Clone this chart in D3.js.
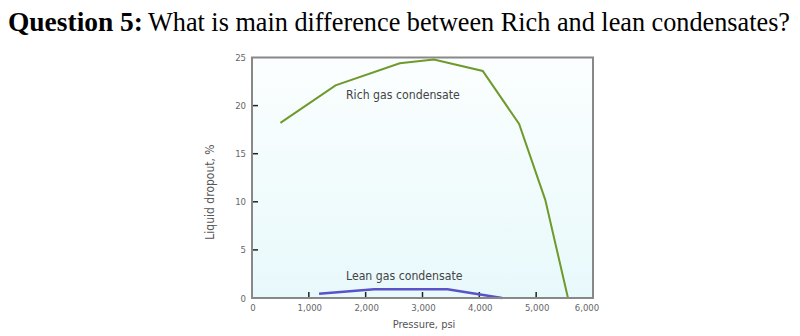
<!DOCTYPE html>
<html>
<head>
<meta charset="utf-8">
<script src="https://cdn.jsdelivr.net/npm/d3@7"></script>
<style>
 body { margin:0; background:#fff; }
 svg text { font-family: "DejaVu Sans Condensed", "Liberation Sans Narrow", sans-serif; }
</style>
</head>
<body>
<svg id="chart" width="800" height="336"></svg>
<script>
// chart data
var richPressure = [500, 1470, 2600, 3200, 4060, 4700, 5160, 5560];
var richDropout  = [18.2, 22.1, 24.4, 24.8, 23.6, 18.1, 10.2, 0];
var leanPressure = [1180, 2150, 3440, 4400];
var leanDropout  = [0.45, 0.9, 0.9, 0];
var xTicks = [0, 1000, 2000, 3000, 4000, 5000, 6000];
var yTicks = [0, 5, 10, 15, 20, 25];

function drawChart()
    {
    var svg = d3.select("#chart");

    // title, two pieces so each can be fitted to its width
    svg.append("text")
        .attr("x", 8).attr("y", 31)
        .style("font-family", "'Liberation Serif', 'Times New Roman', serif")
        .style("font-size", "26.5px").attr("font-weight", "bold")
        .attr("textLength", 135).attr("lengthAdjust", "spacingAndGlyphs")
        .text("Question 5:");
    svg.append("text")
        .attr("x", 148).attr("y", 31)
        .style("font-family", "'Liberation Serif', 'Times New Roman', serif")
        .style("font-size", "26.5px")
        .attr("textLength", 642).attr("lengthAdjust", "spacingAndGlyphs")
        .text("What is main difference between Rich and lean condensates?");

    // plot area
    var pl = 252, pr = 593, pt = 57.5, pb = 298;
    var x = d3.scaleLinear().domain([0, 6000]).range([pl, pr]);
    var y = d3.scaleLinear().domain([0, 25]).range([pb, pt]);

    var grad = svg.append("defs").append("linearGradient")
        .attr("id", "bg").attr("x1", 0).attr("y1", 0).attr("x2", 0).attr("y2", 1);
    grad.append("stop").attr("offset", 0).attr("stop-color", "#fbfefe");
    grad.append("stop").attr("offset", 1).attr("stop-color", "#e8f9fb");

    svg.append("rect")
        .attr("x", pl).attr("y", pt)
        .attr("width", pr - pl).attr("height", pb - pt)
        .attr("fill", "url(#bg)");

    // ticks (inward)
    svg.selectAll(".yt").data(yTicks.filter(function(d){ return d > 0 && d < 25; }))
      .enter().append("line")
        .attr("x1", pl).attr("x2", pl + 6)
        .attr("y1", function(d){ return y(d); }).attr("y2", function(d){ return y(d); })
        .attr("stroke", "#222").attr("stroke-width", 1.5);
    svg.selectAll(".xt").data(xTicks.filter(function(d){ return d > 0 && d < 6000; }))
      .enter().append("line")
        .attr("x1", function(d){ return x(d); }).attr("x2", function(d){ return x(d); })
        .attr("y1", pb).attr("y2", pb - 6)
        .attr("stroke", "#222").attr("stroke-width", 1.5);

    // tick labels
    svg.selectAll(".yl").data(yTicks).enter().append("text")
        .attr("x", pl - 6).attr("y", function(d){ return y(d) + 3.5; })
        .attr("text-anchor", "end")
        .attr("font-size", "9.5px").attr("fill", "#666")
        .text(function(d){ return d; });
    svg.selectAll(".xl").data(xTicks).enter().append("text")
        .attr("x", function(d){ return d === 6000 ? x(d) - 6 : x(d) + 1; }).attr("y", pb + 13)
        .attr("text-anchor", "middle")
        .attr("font-size", "9.5px").attr("fill", "#666")
        .text(function(d){ return d3.format(",")(d); });

    // axis titles
    svg.append("text")
        .attr("x", 424).attr("y", 328)
        .attr("text-anchor", "middle")
        .attr("font-size", "11px").attr("fill", "#555")
        .text("Pressure, psi");
    svg.append("text")
        .attr("transform", "translate(214,192) rotate(-90)")
        .attr("text-anchor", "middle")
        .attr("font-size", "12px").attr("fill", "#555")
        .text("Liquid dropout, %");

    // curves
    var line = d3.line()
        .x(function(d){ return x(d[0]); })
        .y(function(d){ return y(d[1]); });

    svg.append("path")
        .datum(d3.zip(richPressure, richDropout))
        .attr("d", line)
        .attr("fill", "none").attr("stroke", "#6e9a2c").attr("stroke-width", 2);
    svg.append("path")
        .datum(d3.zip(leanPressure, leanDropout))
        .attr("d", line)
        .attr("fill", "none").attr("stroke", "#5a52c8").attr("stroke-width", 2.5);

    // frame
    svg.append("rect")
        .attr("x", pl).attr("y", pt)
        .attr("width", pr - pl).attr("height", pb - pt)
        .attr("fill", "none").attr("stroke", "#888").attr("stroke-width", 2);

    // labels for curves
    svg.append("text")
        .attr("x", 346).attr("y", 99)
        .attr("font-size", "12.2px").attr("fill", "#444")
        .text("Rich gas condensate");
    svg.append("text")
        .attr("x", 346).attr("y", 280)
        .attr("font-size", "12.2px").attr("fill", "#444")
        .text("Lean gas condensate");
    }

drawChart();
</script>
</body>
</html>
